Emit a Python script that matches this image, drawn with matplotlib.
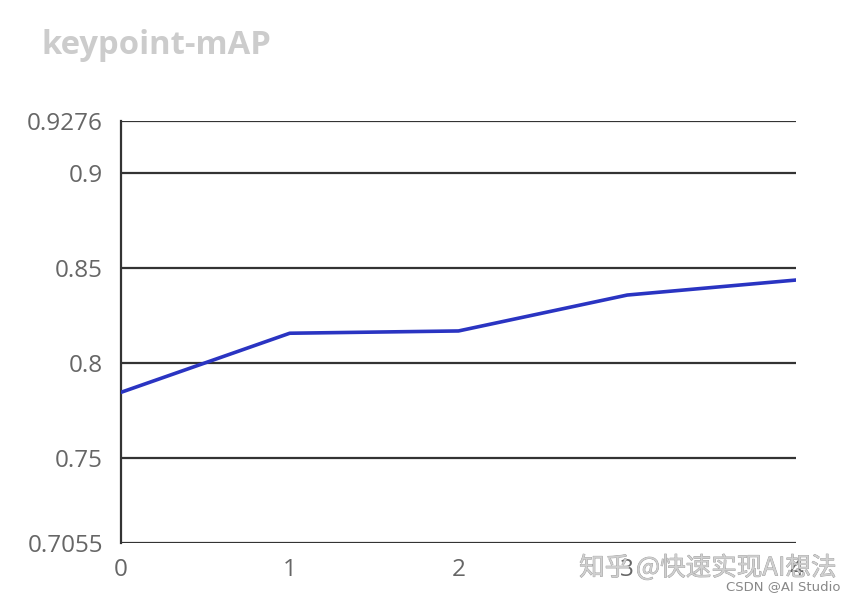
import matplotlib
matplotlib.use("Agg")
import matplotlib.pyplot as plt
import matplotlib.patheffects as pe

epochs = [0, 1, 2, 3, 4]
kp_map = [0.7848, 0.8159, 0.8171, 0.8360, 0.8439]
y_ticks = [0.7055, 0.75, 0.8, 0.85, 0.9, 0.9276]
y_tick_labels = ["0.7055", "0.75", "0.8", "0.85", "0.9", "0.9276"]
x_ticks = [0, 1, 2, 3, 4]

plt.rcParams['font.family'] = ['Open Sans', 'Noto Sans CJK SC', 'DejaVu Sans']

fig = plt.figure(figsize=(8.56, 6.02), dpi=100)
ax = fig.add_axes([121/856, (602-543)/602, (796-121)/856, (543-121)/602])

for y in y_ticks:
    ax.axhline(y, color="#333333", lw=1.6, zorder=1)
ax.plot(epochs, kp_map, color="#2a34c2", lw=2.6, zorder=3, solid_joinstyle="round")

ax.set_xlim(0, 4)
ax.set_ylim(y_ticks[0], y_ticks[-1])
ax.set_yticks(y_ticks)
ax.set_yticklabels(y_tick_labels)
ax.set_xticks(x_ticks)
for s in ["top", "right", "bottom"]:
    ax.spines[s].set_visible(False)
ax.spines["left"].set_color("#333333")
ax.spines["left"].set_linewidth(1.6)
ax.tick_params(axis="both", length=0, labelsize=17.5, labelcolor="#666666")
ax.tick_params(axis="y", pad=13)
ax.tick_params(axis="x", pad=11)

fig.text(41/856, 1 - 54/602, "keypoint-mAP", fontsize=23.6, fontweight="bold",
         color="#cccccc", ha="left", va="baseline")

fig.text(836/856, 1 - 568/602, "知乎 @快速实现AI想法", fontsize=18.4, color="#d0d0d0",
         alpha=0.9, ha="right", va="center", family=['Noto Sans CJK SC', 'DejaVu Sans'],
         path_effects=[pe.withStroke(linewidth=0.5, foreground="#8a8a8a")])
fig.text(840/856, 1 - 587/602, "CSDN @AI Studio", fontsize=9.5, color="#888888",
         ha="right", va="center", family=['DejaVu Sans'])

fig.savefig("out.png", dpi=100)
